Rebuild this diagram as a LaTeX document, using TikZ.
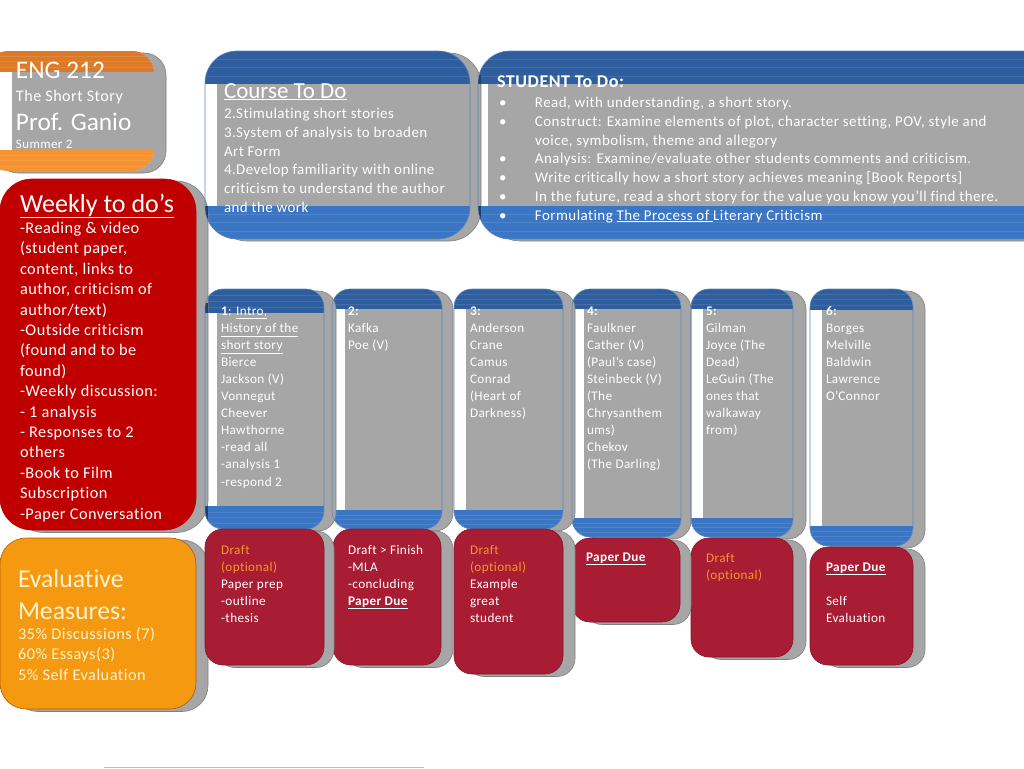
\documentclass[tikz,border=0pt]{standalone}
\usepackage{fontspec}
\setmainfont{Carlito}[LetterSpace=3,Ligatures=NoCommon]
\definecolor{bandD}{HTML}{2E5E9E}
\definecolor{bandL}{HTML}{3A76C4}
\definecolor{lineB}{HTML}{5B87BD}
\definecolor{midG}{HTML}{A6A6A6}
\definecolor{shadowE}{HTML}{7F7F7F}
\definecolor{orD}{HTML}{DD7A28}
\definecolor{orL}{HTML}{F79230}
\definecolor{redW}{HTML}{C00000}
\definecolor{crim}{HTML}{A81D33}
\definecolor{orBox}{HTML}{F59A10}
\definecolor{orTx}{HTML}{F9952B}
\definecolor{cream}{HTML}{FFF2D0}
\definecolor{navyS}{HTML}{1F3F6B}
\tikzset{
  x=1pt,y=-1pt,
  txt/.style={anchor=base west,inner sep=0pt,outer sep=0pt,align=left,text=white},
  wk/.style={txt,font=\fontsize{13.2}{17.05}\selectfont},
  top/.style={txt,font=\fontsize{14.95}{18.75}\selectfont},
  wkl/.style={txt,font=\fontsize{16.3}{20.4}\selectfont},
  shadowbox/.style={fill=midG,draw=shadowE,line width=.6pt},
}
% x1 y1 x2 y2 topEnd botStart holeEnd shadowR radius
\newcommand\bandbox[9]{%
  \filldraw[shadowbox,rounded corners=#9pt] (#1+10,#2+2) rectangle (#8,#4+2);
  \begin{scope}
    \clip[rounded corners=#9pt] (#1,#2) rectangle (#3,#4);
    \fill[white] (#1,#2) rectangle (#3,#4);
    \fill[midG] (#7,#2) rectangle (#3,#4);
    \fill[\bandcolD] (#1,#2) rectangle (#3,#5);
    \fill[\bandcolL] (#1,#6) rectangle (#3,#4);
    \foreach \k in {.25,.5,.75}{
      \draw[white,opacity=.1,line width=.5pt] (#1,{#2+\k*(#5-#2)}) -- (#3,{#2+\k*(#5-#2)});
      \draw[white,opacity=.1,line width=.5pt] (#1,{#6+\k*(#4-#6)}) -- (#3,{#6+\k*(#4-#6)});
    }
  \end{scope}}
\newcommand\solidbox[8]{%
  \filldraw[shadowbox,rounded corners=#5pt] (#1+12,#2+2) rectangle (#6,#4+2.5);
  \filldraw[fill=#7,draw=#8,line width=.6pt,rounded corners=#5pt] (#1,#2) rectangle (#3,#4);}
\newcommand\outl[5]{\draw[lineB,line width=.6pt,rounded corners=#5pt] (#1,#2) rectangle (#3,#4);}
% dark strip where a neighbour's shadow shows through a band: x1 y1 x2 y2 radius, strip x2, strip y1, strip y2
\newcommand\navystrip[8]{\begin{scope}
  \clip[rounded corners=#5pt] (#1,#2) rectangle (#3,#4);
  \fill[navyS] (#1,#7) rectangle (#6,#8);
\end{scope}}
\def\bandcolD{bandD}\def\bandcolL{bandL}
\newcommand\ul[1]{\underline{#1}}
\begin{document}
\begin{tikzpicture}
\useasboundingbox (0,0) rectangle (1024,768);
\fill[white] (0,0) rectangle (1024,768);
% week boxes, right to left so that each shadow falls over the next box
\bandbox{810}{289}{913}{546}{310}{526}{822}{925}{18}
\bandbox{691}{289}{793}{537}{309}{518}{703}{806}{18}
\bandbox{572}{289}{681}{537}{309}{518}{584}{691}{18}
\bandbox{454}{289}{563}{529}{309}{510}{466}{575}{18}
\bandbox{332}{289}{442}{529}{309}{510}{345}{453}{18}
\bandbox{205}{289}{324}{529}{313}{506}{217}{336}{18}
\bandbox{478}{51}{1060}{239}{84}{206}{488}{1080}{32}
\bandbox{205}{51}{470}{239}{84}{206}{217}{481}{32}
\def\bandcolD{orD}\def\bandcolL{orL}
\bandbox{-14}{51}{154}{171}{72}{150}{12}{166}{22}
\def\bandcolD{bandD}\def\bandcolL{bandL}
\solidbox{0}{179}{196}{530}{32}{208}{redW}{redW}
\solidbox{0}{538}{196}{709}{26}{208}{orBox}{orange!70!black}
\navystrip{478}{51}{1060}{239}{32}{481}{75}{84}
\navystrip{478}{51}{1060}{239}{32}{481}{206}{236}
\navystrip{205}{51}{470}{239}{32}{208}{206}{230}
\navystrip{205}{289}{324}{529}{18}{208}{303}{313}
\navystrip{205}{289}{324}{529}{18}{208}{506}{522}
\outl{810}{289}{913}{546}{18}
\outl{691}{289}{793}{537}{18}
\outl{572}{289}{681}{537}{18}
\outl{454}{289}{563}{529}{18}
\outl{332}{289}{442}{529}{18}
\outl{205}{289}{324}{529}{18}
\outl{478}{51}{1060}{239}{32}
\outl{205}{51}{470}{239}{32}
% red boxes
\solidbox{810}{547}{913}{665}{18}{925}{crim}{crim!80!black}
\solidbox{691}{538}{793}{657}{18}{806}{crim}{crim!80!black}
\solidbox{572}{538}{680}{622}{18}{691}{crim}{crim!80!black}
\solidbox{454}{529}{563}{674}{18}{575}{crim}{crim!80!black}
\solidbox{333}{529}{441}{665}{18}{453}{crim}{crim!80!black}
\solidbox{205}{529}{324}{665}{18}{334}{crim}{crim!80!black}
\draw[color={rgb,255:red,168;green,196;blue,196},line width=1pt] (104,767.5) -- (424,767.5);
% texts: a node's base is its last line
\node[txt,font=\fontsize{25.3}{26}\selectfont\addfontfeature{LetterSpace=0}] (eng) at (16,78.5) {ENG 212};
\node[txt,font=\fontsize{16.1}{18}\selectfont] (story) at (16,101) {The Short Story};
\node[txt,font=\fontsize{25.3}{26}\selectfont\addfontfeature{LetterSpace=0}] (prof) at (16,130.5) {Prof. Ganio};
\node[txt,font=\fontsize{13}{14}\selectfont] (summer) at (16,148) {Summer 2};
\node[txt,font=\fontsize{23}{24}\selectfont\addfontfeature{LetterSpace=0}] (coursehd) at (224,98) {\ul{Course To Do}};
\node[top] (course) at (224,212.25) {2.Stimulating short stories\\3.System of analysis to broaden\\Art Form\\4.Develop familiarity with online\\criticism to understand the author\\and the work};
\node[txt,font=\bfseries\fontsize{18}{20}\selectfont] (studenthd) at (497,87) {STUDENT To Do:};
\node[top] (student) at (499,220) {\makebox[36pt][l]{•}Read, with understanding, a short story.\\
\makebox[36pt][l]{•}Construct: Examine elements of plot, character setting, POV, style and\\
\hspace*{36pt}voice, symbolism, theme and allegory\\
\makebox[36pt][l]{•}Analysis: Examine/evaluate other students comments and criticism.\\
\makebox[36pt][l]{•}Write critically how a short story achieves meaning [Book Reports]\\
\makebox[36pt][l]{•}In the future, read a short story for the value you know you’ll find there.\\
\makebox[36pt][l]{•}Formulating \ul{The Process of\ }Literary Criticism};
\node[txt,font=\fontsize{26}{28}\selectfont\addfontfeature{LetterSpace=0}] (weeklyhd) at (20,212) {\ul{Weekly to do’s}};
\node[wkl] (weekly) at (20,519.1) {-Reading \& video\\(student paper,\\content, links to\\author, criticism of\\author/text)\\-Outside criticism\\(found and to be\\found)\\-Weekly discussion:\\- 1 analysis\\- Responses to 2\\others\\-Book to Film\\Subscription\\-Paper Conversation};
\node[txt,font=\fontsize{25.7}{32}\selectfont\addfontfeature{LetterSpace=0},text=cream] (evalhd) at (18,619) {Evaluative\\Measures:};
\node[wkl,text=cream] (evalb) at (18,680.3) {35\% Discussions (7)\\60\% Essays(3)\\5\% Self Evaluation};
\node[wk] (w1) at (221,486) {\textbf{1}: \ul{Intro,}\\\ul{History of the}\\\ul{short story}\\Bierce\\Jackson (V)\\Vonnegut\\Cheever\\Hawthorne\\-read all\\-analysis 1\\-respond 2};
\node[wk] (w2) at (348,349.1) {\textbf{2:}\\Kafka\\Poe (V)};
\node[wk] (w3) at (470,417.3) {\textbf{3:}\\Anderson\\Crane\\Camus\\Conrad\\(Heart of\\Darkness)};
\node[wk] (w4) at (587,468.45) {\textbf{4:}\\Faulkner\\Cather (V)\\(Paul’s case)\\Steinbeck (V)\\(The\\Chrysanthem\\ums)\\Chekov\\(The Darling)};
\node[wk] (w5) at (706,434.35) {\textbf{5:}\\Gilman\\Joyce (The\\Dead)\\LeGuin (The\\ones that\\walkaway\\from)};
\node[wk] (w6) at (826,400.25) {\textbf{6:}\\Borges\\Melville\\Baldwin\\Lawrence\\O’Connor};
\node[wk] (r1) at (221,622.2) {\textcolor{orTx}{Draft}\\\textcolor{orTx}{(optional)}\\Paper prep\\-outline\\-thesis};
\node[wk] (r2) at (348,605.15) {Draft > Finish\\-MLA\\-concluding\\\textbf{\ul{Paper Due}}};
\node[wk] (r3) at (470,622.2) {\textcolor{orTx}{Draft}\\\textcolor{orTx}{(optional)}\\Example\\great\\student};
\node[wk] (r4) at (586,561) {\textbf{\ul{Paper Due}}};
\node[wk] (r5) at (706,579.05) {\textcolor{orTx}{Draft}\\\textcolor{orTx}{(optional)}};
\node[wk] (r6) at (826,622.15) {\textbf{\ul{Paper Due}}\\\\Self\\Evaluation};
\end{tikzpicture}
\end{document}
